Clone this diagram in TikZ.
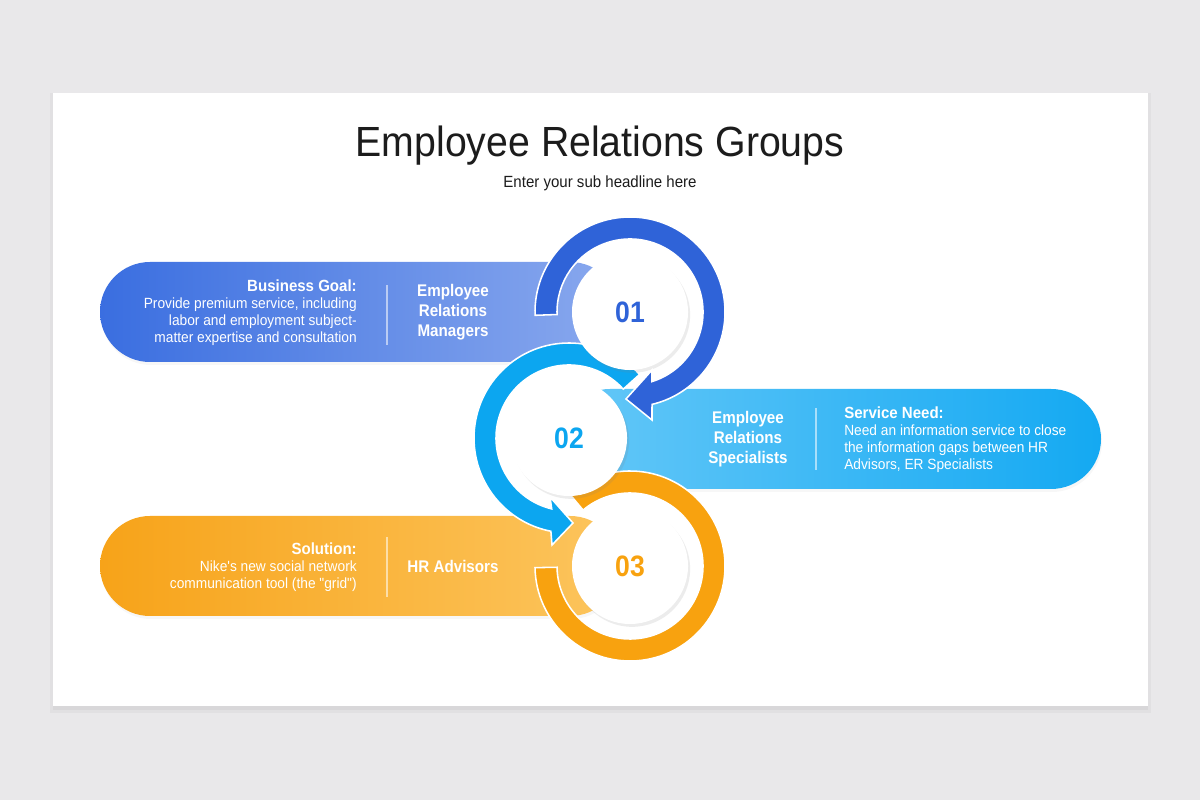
\documentclass[tikz,border=0pt]{standalone}
\usepackage{fontspec}
\setmainfont{Liberation Sans}
\newfontfamily\condfont{Liberation Sans}[FakeStretch=0.93]
\newfontfamily\labelfont{Liberation Sans}[FakeStretch=0.9]
\newfontfamily\titlefont{Liberation Sans}[FakeStretch=0.93]
\usetikzlibrary{calc, shadows}

\definecolor{pageGray}{HTML}{E9E8EA}
\definecolor{titleGray}{HTML}{1C1C1C}
\definecolor{blueDark}{HTML}{3A6EE0}
\definecolor{blueLight}{HTML}{8AA9EE}
\definecolor{blueRing}{HTML}{2F63D8}
\definecolor{skyLight}{HTML}{66C8F8}
\definecolor{skyDark}{HTML}{14A9F2}
\definecolor{skyRing}{HTML}{0CA6F0}
\definecolor{orangeDark}{HTML}{F7A319}
\definecolor{orangeLight}{HTML}{FCC55E}
\definecolor{orangeRing}{HTML}{F8A20F}

\begin{document}
\begin{tikzpicture}[
    x=0.025cm, y=0.025cm,
    bar/.style={rounded corners=1.25cm},
    disc/.style={circle, fill=white, minimum size=2.9cm, inner sep=0pt,
                 font=\labelfont\bfseries\fontsize{21}{21}\selectfont,
                 drop shadow={opacity=0.15, shadow xshift=1.5pt, shadow yshift=-2pt}},
    ring/.style={draw=white, line width=1.1pt},
    divider/.style={white, opacity=0.55, line width=0.8pt},
    label/.style={text=white, font=\labelfont\bfseries\fontsize{12}{14.2}\selectfont,
                  align=center},
    note/.style={text=white, inner sep=0pt, font=\condfont\fontsize{10.5}{12.1}\selectfont}
]
% page and slide
\fill[pageGray] (0,0) rectangle (1200,800);
\useasboundingbox (0,0) rectangle (1200,800);
\fill[black, opacity=0.03] (50,87) rectangle (1151,707);
\fill[black, opacity=0.04] (53,90) rectangle (1148,707);
\fill[white] (53,94) rectangle (1148,707);

\node[font=\titlefont\fontsize{30}{30}\selectfont, text=titleGray, anchor=base]
    (title) at (600,643) {Employee Relations Groups};
\node[font=\condfont\fontsize{11.5}{12}\selectfont, text=titleGray, anchor=base]
    (sub) at (600,612) {Enter your sub headline here};

% bars
\fill[black, opacity=0.03, bar] (101,435) rectangle (621,536);
\shade[bar, left color=blueDark, right color=blueLight] (100,438) rectangle (620,538);
\fill[black, opacity=0.03, bar] (561,308) rectangle (1102,409);
\shade[bar, left color=skyLight, right color=skyDark] (560,311) rectangle (1101,411);
\fill[black, opacity=0.03, bar] (101,181) rectangle (621,282);
\shade[bar, left color=orangeDark, right color=orangeLight] (100,184) rectangle (620,284);

% bar texts
\node[note, anchor=east, align=right] (goal) at (357,487)
    {{\fontsize{11.5}{12.1}\selectfont\bfseries Business Goal:}\\
     Provide premium service, including\\
     labor and employment subject-\\
     matter expertise and consultation};
\draw[divider] (387,515) -- (387,455);
\node[label] (mgr) at (453,488) {Employee\\Relations\\Managers};

\node[label] (spec) at (748,361) {Employee\\Relations\\Specialists};
\draw[divider] (816,392) -- (816,330);
\node[note, anchor=west, align=left] (need) at (844,360)
    {{\fontsize{11.5}{12.1}\selectfont\bfseries Service Need:}\\
     Need an information service to close\\
     the information gaps between HR\\
     Advisors, ER Specialists};

\node[note, anchor=east, align=right] (sol) at (357,233)
    {{\fontsize{11.5}{12.1}\selectfont\bfseries Solution:}\\
     Nike's new social network\\
     communication tool (the "grid")};
\draw[divider] (387,263) -- (387,203);
\node[label] (hr) at (453,234) {HR Advisors};

% step 03
\node[disc, text=orangeRing] (c3) at (630,234) {03};
\fill[orangeRing, ring] ($(c3.center)+(181:95)$) arc[start angle=181, end angle=490, radius=95]
    -- ($(c3.center)+(130:73)$) arc[start angle=490, end angle=181, radius=73] -- cycle;

% step 02
\node[disc, text=skyRing] (c2) at (569,362) {02};
\fill[skyRing, ring] ($(c2.center)+(42:95)$) arc[start angle=42, end angle=259, radius=95]
    -- ($(c2.center)+(-17,-107)$) -- ($(c2.center)+(4,-85)$) -- ($(c2.center)+(-19,-59)$)
    -- ($(c2.center)+(256.3:73)$) arc[start angle=256.3, end angle=42, radius=73] -- cycle;

% step 01
\node[disc, text=blueRing] (c1) at (630,488) {01};
\fill[blueRing, ring] ($(c1.center)+(182:95)$) arc[start angle=182, end angle=-76.6, radius=95]
    -- ($(c1.center)+(22,-108)$) -- ($(c1.center)+(-4,-87)$) -- ($(c1.center)+(22,-58)$)
    -- ($(c1.center)+(-72.5:73)$) arc[start angle=-72.5, end angle=182, radius=73] -- cycle;
\end{tikzpicture}
\end{document}
